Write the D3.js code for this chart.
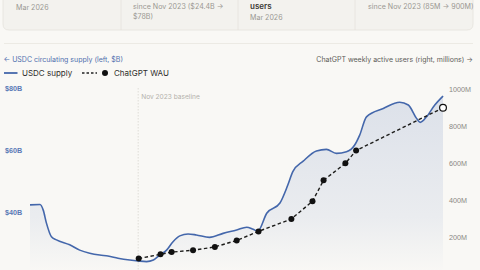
<!DOCTYPE html>
<html lang="en">
<head>
  <meta charset="UTF-8">
  <title>USDC supply vs ChatGPT WAU</title>
  <script src="https://d3js.org/d3.v7.min.js"></script>
  <style>
    body {
      margin: 0;
      background: #f9f8f5;
      font-family: "Inter", "Lato", sans-serif;
    }
    svg { display: block; }
    .card-text { font-size: 7.1px; fill: #9a9892; }
    .card-strong { font-size: 8px; fill: #3a3935; font-weight: 600; }
    .hdr-left { font-size: 7px; fill: #4f6fae; }
    .hdr-right { font-size: 7px; fill: #5d5c58; }
    .legend-text { font-size: 8px; fill: #2f2e2b; }
    .axis-left text { font-size: 7.2px; fill: #5a79b6; font-weight: 600; }
    .axis-right text { font-size: 7.2px; fill: #8a8884; }
    .axis path, .axis line { display: none; }
    .base-label { font-size: 6.6px; fill: #b3b1ab; }
  </style>
</head>
<body>
<svg id="chart" width="480" height="270"></svg>
<script>
// USDC circulating supply, $B
const usdcDates = ["2023-01-01","2023-01-29","2023-02-07","2023-02-16","2023-03-02","2023-03-16",
  "2023-04-22","2023-05-20","2023-06-17","2023-07-15","2023-08-07","2023-09-04","2023-10-07",
  "2023-10-30","2023-11-23","2023-12-12","2023-12-30","2024-01-18","2024-02-05","2024-02-24",
  "2024-03-18","2024-04-10","2024-05-17","2024-06-24","2024-08-01","2024-08-29","2024-09-16",
  "2024-09-29","2024-10-24","2024-11-30","2024-12-22","2025-01-05","2025-02-03","2025-03-12",
  "2025-04-09","2025-05-07","2025-06-04","2025-06-27","2025-07-11","2025-07-30","2025-09-15",
  "2025-10-31","2025-11-24","2025-12-17","2025-12-27","2026-01-14","2026-02-06","2026-03-01"];
const usdcValues = [42.4, 42.5, 40.7, 36.5, 32.1, 31.1,
  29.5, 27.8, 26.8, 26.2, 25.9, 25.2, 24.6,
  24.3, 24.1, 24.6, 26.2, 27.8, 30.5, 32.4,
  33.0, 32.7, 31.9, 33.2, 34.3, 35.2, 34.5,
  33.9, 39.7, 43.0, 48.8, 53.1, 56.5, 59.8,
  60.3, 59.0, 59.5, 61.7, 64.9, 70.8, 73.5,
  75.5, 74.6, 70.3, 69.0, 70.8, 74.6, 77.5];

// ChatGPT weekly active users, millions
const wauDates = ["2023-11-01","2024-01-01","2024-02-01","2024-04-01","2024-06-01","2024-08-01",
  "2024-10-01","2025-01-01","2025-03-01","2025-04-01","2025-06-01","2025-07-01","2026-03-01"];
const wauValues = [85, 108, 120, 130, 148, 183, 232, 299, 395, 508, 600, 669, 900];

const leftTicks = [40, 60, 80];
const rightTicks = [200, 400, 600, 800, 1000];

const cardLines = [
  { x: 16, y: 9.5, text: "Mar 2026", cls: "card-text" },
  { x: 133, y: 9, text: "since Nov 2023 ($24.4B →", cls: "card-text" },
  { x: 133, y: 18.5, text: "$78B)", cls: "card-text" },
  { x: 250, y: 9, text: "users", cls: "card-strong" },
  { x: 250, y: 19.5, text: "Mar 2026", cls: "card-text" },
  { x: 368, y: 9, text: "since Nov 2023 (85M → 900M)", cls: "card-text" }
];

const parse = d3.timeParse("%Y-%m-%d");
const usdc = usdcDates.map((d, i) => ({ date: parse(d), value: usdcValues[i] }));
const wau = wauDates.map((d, i) => ({ date: parse(d), value: wauValues[i] }));

const svg = d3.select("#chart");

// top summary cards (cut off by the frame)
svg.append("path")
  .attr("d", "M3,-2 L3,24 Q3,30 9,30 L467,30 Q473,30 473,24 L473,-2 Z")
  .attr("fill", "#f3f2ee")
  .attr("stroke", "#e4e2dc")
  .attr("stroke-width", 0.8);
[121, 238, 355].forEach(x => {
  svg.append("line").attr("x1", x).attr("x2", x).attr("y1", 0).attr("y2", 30)
    .attr("stroke", "#e4e2dc").attr("stroke-width", 0.8);
});
svg.selectAll(".card-line").data(cardLines).enter().append("text")
  .attr("class", d => d.cls)
  .attr("x", d => d.x).attr("y", d => d.y)
  .text(d => d.text);

svg.append("line").attr("x1", 4).attr("x2", 473).attr("y1", 43.5).attr("y2", 43.5)
  .attr("stroke", "#e8e6e0").attr("stroke-width", 0.8);

// headers
svg.append("text").attr("class", "hdr-left").attr("x", 3.5).attr("y", 61.5)
  .text("← USDC circulating supply (left, $B)");
svg.append("text").attr("class", "hdr-right").attr("x", 473).attr("y", 61.5)
  .attr("text-anchor", "end")
  .text("ChatGPT weekly active users (right, millions) →");

// legend
const lg = svg.append("g").attr("transform", "translate(0,73)");
lg.append("line").attr("x1", 4).attr("x2", 17.5).attr("y1", 0).attr("y2", 0)
  .attr("stroke", "#4467ab").attr("stroke-width", 1.8);
lg.append("text").attr("class", "legend-text").attr("x", 22).attr("y", 3).text("USDC supply");
lg.append("line").attr("x1", 82).attr("x2", 97).attr("y1", 0).attr("y2", 0)
  .attr("stroke", "#222").attr("stroke-width", 1.4).attr("stroke-dasharray", "2.5,2");
lg.append("circle").attr("cx", 105).attr("cy", 0).attr("r", 3).attr("fill", "#111");
lg.append("text").attr("class", "legend-text").attr("x", 114).attr("y", 3).text("ChatGPT WAU");

// scales
const x = d3.scaleTime()
  .domain([parse("2023-01-01"), parse("2026-03-01")])
  .range([30, 443]);
const yL = d3.scaleLinear().domain([20, 80]).range([274.3, 88.3]);
const yR = d3.scaleLinear().domain([0, 1000]).range([274.3, 89.3]);

// gradient for area
const grad = svg.append("defs").append("linearGradient")
  .attr("id", "usdcFill")
  .attr("gradientUnits", "userSpaceOnUse")
  .attr("x1", 0).attr("x2", 0).attr("y1", 90).attr("y2", 272);
grad.append("stop").attr("offset", "0%").attr("stop-color", "#5575b4").attr("stop-opacity", 0.18);
grad.append("stop").attr("offset", "70%").attr("stop-color", "#5575b4").attr("stop-opacity", 0.09);
grad.append("stop").attr("offset", "100%").attr("stop-color", "#5575b4").attr("stop-opacity", 0.0);

// baseline marker
const bx = x(parse("2023-11-01")) - 0.5;
svg.append("line")
  .attr("x1", bx).attr("x2", bx).attr("y1", 88).attr("y2", 270)
  .attr("stroke", "#d9d7d1").attr("stroke-width", 0.8).attr("stroke-dasharray", "1.5,1.5");
svg.append("text").attr("class", "base-label").attr("x", bx + 3).attr("y", 98.5)
  .text("Nov 2023 baseline");

// USDC area + line
const area = d3.area()
  .x(d => x(d.date))
  .y0(274)
  .y1(d => yL(d.value))
  .curve(d3.curveMonotoneX);
const line = d3.line()
  .x(d => x(d.date))
  .y(d => yL(d.value))
  .curve(d3.curveMonotoneX);

svg.append("path").datum(usdc).attr("d", area).attr("fill", "url(#usdcFill)");
svg.append("path").datum(usdc).attr("d", line)
  .attr("fill", "none").attr("stroke", "#4467ab").attr("stroke-width", 1.6);

// WAU dashed line + dots
const wauLine = d3.line().x(d => x(d.date)).y(d => yR(d.value));
svg.append("path").datum(wau).attr("d", wauLine)
  .attr("fill", "none").attr("stroke", "#1d1d1b").attr("stroke-width", 1.4)
  .attr("stroke-dasharray", "3.5,2.5");
svg.selectAll(".dot").data(wau).enter().append("circle")
  .attr("class", "dot")
  .attr("cx", d => x(d.date)).attr("cy", d => yR(d.value))
  .attr("r", (d, i) => i === wau.length - 1 ? 3.4 : 3)
  .attr("fill", (d, i) => i === wau.length - 1 ? "#fff" : "#111")
  .attr("stroke", "#111")
  .attr("stroke-width", (d, i) => i === wau.length - 1 ? 1.2 : 0);

// axes
svg.append("g").attr("class", "axis axis-left")
  .attr("transform", "translate(5,0)")
  .call(d3.axisRight(yL).tickValues(leftTicks).tickSize(0).tickPadding(0)
    .tickFormat(d => "$" + d + "B"));
svg.append("g").attr("class", "axis axis-right")
  .attr("transform", "translate(449,0)")
  .call(d3.axisRight(yR).tickValues(rightTicks).tickSize(0).tickPadding(0)
    .tickFormat(d => d + "M"));
</script>
</body>
</html>
